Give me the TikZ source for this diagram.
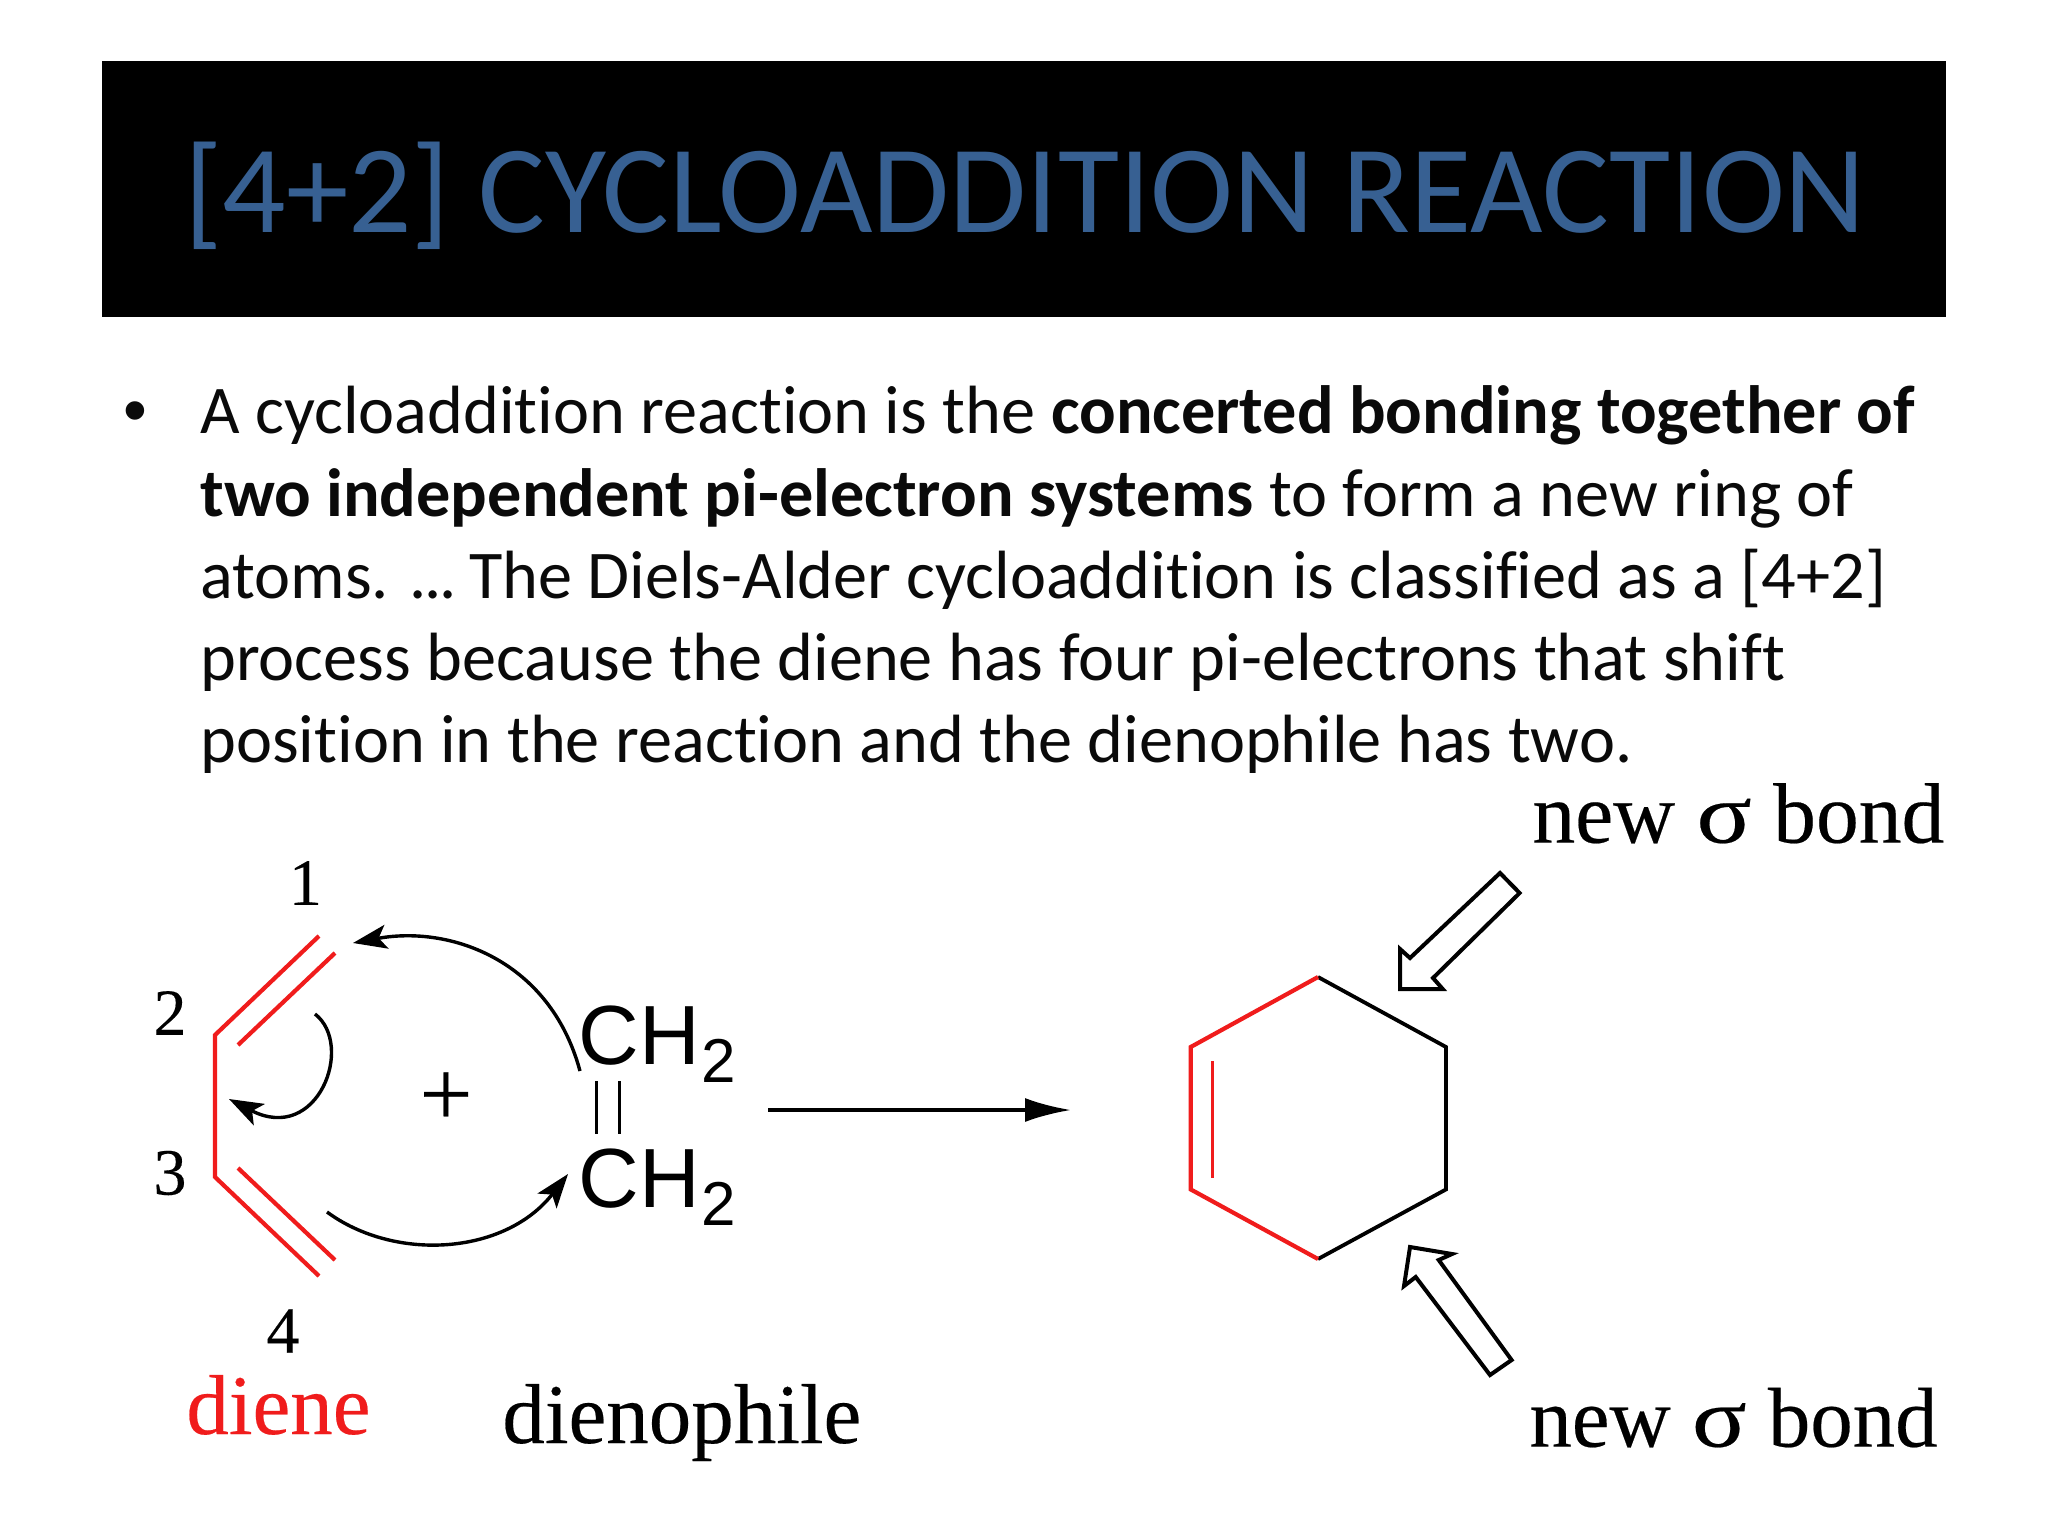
\documentclass[tikz,border=0pt]{standalone}
\usepackage{graphicx}
\usepackage{fontspec}
\setmainfont{Carlito}[Ligatures=NoCommon]
\newfontfamily\chemserif{Liberation Serif}[FakeBold=0.25]
\newfontfamily\chemsans{Liberation Sans}
\usetikzlibrary{arrows.meta}
\definecolor{titleblue}{HTML}{376092}
\definecolor{bodyblack}{HTML}{0A0A0A}
\definecolor{chemred}{HTML}{F01C1C}
\newcommand{\subtwo}{\hspace{1pt}\raisebox{-9pt}{\fontsize{31}{32}\selectfont 2}}
\newcommand{\widesigma}{\scalebox{1.2}[1]{σ}}
\tikzset{
  bodyline/.style={anchor=base west,inner sep=0pt,text=bodyblack,font=\fontsize{34.14}{40}\selectfont},
  numlabel/.style={anchor=center,inner sep=0pt,font=\chemserif\fontsize{33}{38}\selectfont},
  serifname/.style={anchor=base west,inner sep=0pt,font=\chemserif\fontsize{42.5}{48}\selectfont},
  chemgroup/.style={anchor=base west,inner sep=0pt,font=\chemsans\fontsize{42}{48}\selectfont},
  redbond/.style={draw=chemred,line width=2.1pt},
  blackbond/.style={draw=black,line width=1.9pt},
  curvearrow/.style={draw=black,line width=1.7pt,-{Stealth[length=17pt,width=12pt,inset=4pt]}},
  hollowarrow/.style={draw=black,line width=2pt,fill=white,line join=miter},
}
\begin{document}
\begin{tikzpicture}[x=0.5pt,y=-0.5pt]
\useasboundingbox (0,0) rectangle (2048,1536);
\fill[white] (0,0) rectangle (2048,1536);
\fill[black] (102,61) rectangle (1946,317);
\node[anchor=base,inner sep=0pt,text=titleblue,font=\fontsize{62.6}{70}\selectfont] (title) at (1025,232) {[4+2] CYCLOADDITION REACTION};
\node[anchor=base,inner sep=0pt,text=bodyblack,font=\chemsans\fontsize{34}{40}\selectfont] (bullet) at (135,433.6) {•};
\node[bodyline] (l1) at (200,433.6) {A cycloaddition reaction is the \textbf{concerted bonding together of}};
\node[bodyline] (l2) at (200,516) {\textbf{two independent pi-electron systems} to form a new ring of};
\node[bodyline] (l3) at (200,598) {atoms. .\kern-1.2pt.\kern-1.2pt.\kern-4pt{} The Diels-Alder cycloaddition is classified as a [4+2]};
\node[bodyline] (l4) at (200,680) {process because the diene has four pi-electrons that shift};
\node[bodyline] (l5) at (200,762.7) {position in the reaction and the dienophile has two.};
% diene
\coordinate (c1) at (319,936); \coordinate (c2) at (215,1035);
\coordinate (c3) at (215,1177); \coordinate (c4) at (319,1276);
\coordinate (i1a) at (335,953); \coordinate (i1b) at (238,1045);
\coordinate (i2a) at (238,1168); \coordinate (i2b) at (335,1260);
\draw[redbond] (c1) -- (c2) -- (c3) -- (c4);
\draw[redbond] (i1a) -- (i1b);
\draw[redbond] (i2a) -- (i2b);
\node[numlabel] (n1) at (305.4,883) {1};
\node[numlabel] (n2) at (170,1013) {2};
\node[numlabel] (n3) at (170,1173) {3};
\node[numlabel] (n4) at (283,1331) {4};
\node[serifname,text=chemred] (diene) at (186,1434) {diene};
\node[serifname] (dienophile) at (502,1443) {dienophile};
\node[anchor=center,inner sep=0pt,font=\chemserif\fontsize{47}{50}\selectfont] (plus) at (446,1099) {+};
% dienophile
\node[chemgroup] (ch2a) at (578,1064) {CH\subtwo};
\node[chemgroup] (ch2b) at (578,1207) {CH\subtwo};
\coordinate (e1a) at (596.5,1081); \coordinate (e1b) at (596.5,1134);
\coordinate (e2a) at (619.5,1081); \coordinate (e2b) at (619.5,1134);
\draw[black,line width=1.9pt] (e1a) -- (e1b);
\draw[black,line width=1.9pt] (e2a) -- (e2b);
% electron arrows
\coordinate (a1s) at (580,1071); \coordinate (a1e) at (353,943);
\coordinate (a2s) at (315,1014); \coordinate (a2e) at (229,1099);
\coordinate (a3s) at (327,1212); \coordinate (a3e) at (568,1174);
\draw[curvearrow] (a1s) .. controls (550,960) and (450,925) .. (a1e);
\draw[curvearrow] (a2s) .. controls (355,1045) and (318,1145) .. (a2e);
\draw[curvearrow] (a3s) .. controls (395,1262) and (505,1255) .. (a3e);
% reaction arrow
\coordinate (rs) at (768,1110); \coordinate (re) at (1071,1110);
\draw[black,line width=1.9pt,-{Latex[length=23pt,width=12pt]}] (rs) -- (re);
% product ring
\coordinate (h1) at (1318,977); \coordinate (h2) at (1446,1047);
\coordinate (h3) at (1446,1189.4); \coordinate (h4) at (1318,1259);
\coordinate (h5) at (1190.7,1189.4); \coordinate (h6) at (1190.7,1047);
\coordinate (hi1) at (1212.5,1061); \coordinate (hi2) at (1212.5,1177.6);
\draw[blackbond] (h1) -- (h2) -- (h3) -- (h4);
\draw[redbond] (h4) -- (h5) -- (h6) -- (h1);
\draw[redbond,line width=1.7pt] (hi1) -- (hi2);
% hollow arrows
\draw[hollowarrow] (1500,873) -- (1519.6,893) -- (1433,978) -- (1442.7,989) -- (1400,989) -- (1400,949) -- (1410,958) -- cycle;
\draw[hollowarrow] (1410,1247) -- (1452,1254) -- (1438.7,1260) -- (1511.6,1360) -- (1490,1375) -- (1415.7,1277) -- (1404,1286) -- cycle;
\node[serifname,font=\chemserif\fontsize{42.8}{48}\selectfont] (sig1) at (1532,842.6) {new \widesigma{} bond};
\node[serifname,font=\chemserif\fontsize{42.4}{48}\selectfont] (sig2) at (1529,1446.6) {new \widesigma{} bond};
\end{tikzpicture}
\end{document}
